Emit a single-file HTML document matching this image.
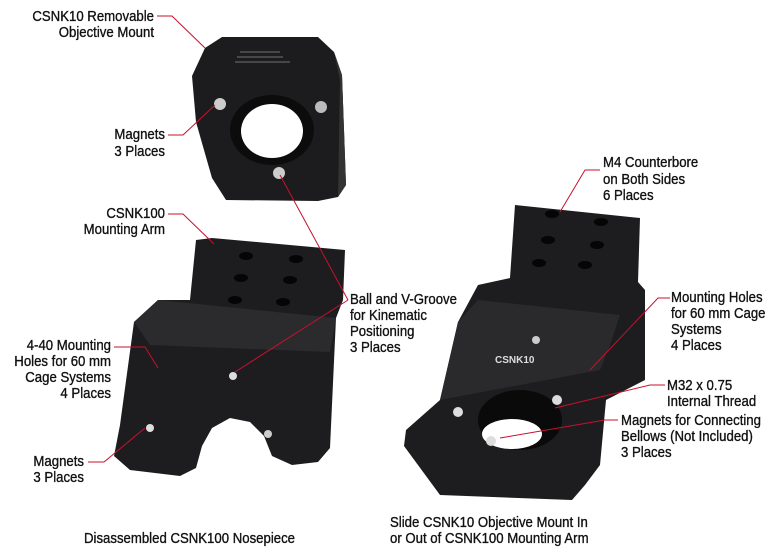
<!DOCTYPE html>
<html><head><meta charset="utf-8"><style>
html,body{margin:0;padding:0;background:#fff;}
svg{display:block}
text{font-family:"Liberation Sans",sans-serif;font-size:15px;fill:#111;stroke:#111;stroke-width:0.35px;}
</style></head><body>
<svg width="780" height="556" viewBox="0 0 780 556" xmlns="http://www.w3.org/2000/svg">
<!-- top mount -->
<polygon points="205,48 222,37 318,37 334,52 342,75 346,185 338,197 318,201 226,200 212,178 196,122 192,76" fill="#1c1c1e"/>
<polygon points="334,52 342,75 346,185 338,197 340,80" fill="#333"/>
<g stroke="#555" stroke-width="1.5"><line x1="240" y1="52" x2="280" y2="52"/><line x1="237" y1="57" x2="283" y2="57"/><line x1="235" y1="62" x2="290" y2="62"/></g>
<ellipse cx="272" cy="130" rx="42" ry="35" fill="#0c0c0c"/>
<ellipse cx="272" cy="131" rx="31" ry="27" fill="#fff"/>
<circle cx="220" cy="104" r="6" fill="#ccc"/><circle cx="321" cy="107" r="6" fill="#bbb"/><circle cx="279" cy="173" r="6" fill="#ccc"/>
<!-- left arm -->
<polygon points="212,238 345,250 343,300 336,318 330,448 318,462 292,465 272,456 264,436 250,422 230,418 212,428 202,446 196,468 180,476 130,470 114,456 120,425 134,322 158,300 190,300 196,240" fill="#1d1d1f"/>
<polygon points="134,322 158,300 336,318 330,352 150,345" fill="#2b2b2d"/>
<g fill="#050505"><ellipse cx="246" cy="256" rx="7" ry="4"/><ellipse cx="296" cy="259" rx="7" ry="4"/><ellipse cx="241" cy="278" rx="7" ry="4"/><ellipse cx="290" cy="280" rx="7" ry="4"/><ellipse cx="235" cy="300" rx="7" ry="4"/><ellipse cx="283" cy="302" rx="7" ry="4"/></g>
<circle cx="233" cy="376" r="4" fill="#ddd"/><circle cx="150" cy="428" r="4" fill="#ddd"/><circle cx="268" cy="434" r="4" fill="#ccc"/>
<!-- right assembly -->
<polygon points="515,205 640,218 638,282 645,290 645,380 606,400 600,465 585,485 572,500 440,495 404,446 406,430 440,400 458,322 478,285 510,278" fill="#1d1d1f"/>
<polygon points="440,400 458,322 478,300 620,315 610,345 600,370" fill="#2a2a2c"/>
<ellipse cx="520" cy="420" rx="42" ry="30" fill="#0a0a0a"/>
<ellipse cx="512" cy="434" rx="30" ry="15" fill="#fff"/>
<g fill="#050505"><ellipse cx="552" cy="214" rx="7" ry="4"/><ellipse cx="601" cy="222" rx="7" ry="4"/><ellipse cx="548" cy="240" rx="7" ry="4"/><ellipse cx="597" cy="245" rx="7" ry="4"/><ellipse cx="539" cy="263" rx="7" ry="4"/><ellipse cx="585" cy="265" rx="7" ry="4"/></g>
<circle cx="458" cy="412" r="5" fill="#ddd"/><circle cx="557" cy="400" r="5" fill="#ddd"/><circle cx="491" cy="441" r="5" fill="#ddd"/><circle cx="536" cy="340" r="4" fill="#ccc"/>
<text x="495" y="363" style="font-size:10px;fill:#ddd;stroke:none;font-weight:bold">CSNK10</text>
<!-- leaders -->
<g stroke="#c8102e" stroke-width="1" fill="none">
<polyline points="157,16 172,16 205,48"/>
<polyline points="168,135 183,135 215,105"/>
<polyline points="168,214 183,214 214,244"/>
<polyline points="348,300 280,175"/>
<polyline points="348,300 235,372"/>
<polyline points="114,347 145,347 158,368"/>
<polyline points="88,462 104,462 145,428"/>
<polyline points="600,170 585,170 560,212"/>
<polyline points="670,298 658,298 590,370"/>
<polyline points="665,385 650,385 555,408"/>
<polyline points="618,420 605,420 500,438"/>
</g>
<g text-anchor="end">
<g transform="translate(154,0) scale(0.88,1) translate(-154,0)"><text x="154" y="21">CSNK10 Removable</text><text x="154" y="37">Objective Mount</text></g>
<g transform="translate(165,0) scale(0.88,1) translate(-165,0)"><text x="165" y="139">Magnets</text><text x="165" y="156">3 Places</text>
<text x="165" y="218">CSNK100</text><text x="165" y="234">Mounting Arm</text></g>
<g transform="translate(111,0) scale(0.88,1) translate(-111,0)"><text x="111" y="350">4-40 Mounting</text><text x="111" y="366">Holes for 60 mm</text><text x="111" y="382">Cage Systems</text><text x="111" y="398">4 Places</text></g>
<g transform="translate(84,0) scale(0.88,1) translate(-84,0)"><text x="84" y="466">Magnets</text><text x="84" y="482">3 Places</text></g>
</g>
<g transform="translate(350,0) scale(0.88,1) translate(-350,0)"><text x="350" y="304">Ball and V-Groove</text><text x="350" y="320">for Kinematic</text><text x="350" y="336">Positioning</text><text x="350" y="352">3 Places</text></g>
<g transform="translate(603,0) scale(0.88,1) translate(-603,0)"><text x="603" y="167">M4 Counterbore</text><text x="603" y="184">on Both Sides</text><text x="603" y="200">6 Places</text></g>
<g transform="translate(671,0) scale(0.88,1) translate(-671,0)"><text x="671" y="302">Mounting Holes</text><text x="671" y="318">for 60 mm Cage</text><text x="671" y="334">Systems</text><text x="671" y="350">4 Places</text></g>
<g transform="translate(667,0) scale(0.88,1) translate(-667,0)"><text x="667" y="390">M32 x 0.75</text><text x="667" y="406">Internal Thread</text></g>
<g transform="translate(621,0) scale(0.88,1) translate(-621,0)"><text x="621" y="425">Magnets for Connecting</text><text x="621" y="441">Bellows (Not Included)</text><text x="621" y="457">3 Places</text></g>
<g transform="translate(84,0) scale(0.88,1) translate(-84,0)"><text x="84" y="543">Disassembled CSNK100 Nosepiece</text></g>
<g transform="translate(390,0) scale(0.88,1) translate(-390,0)"><text x="390" y="527">Slide CSNK10 Objective Mount In</text><text x="390" y="543">or Out of CSNK100 Mounting Arm</text></g>
</svg>
</body></html>
